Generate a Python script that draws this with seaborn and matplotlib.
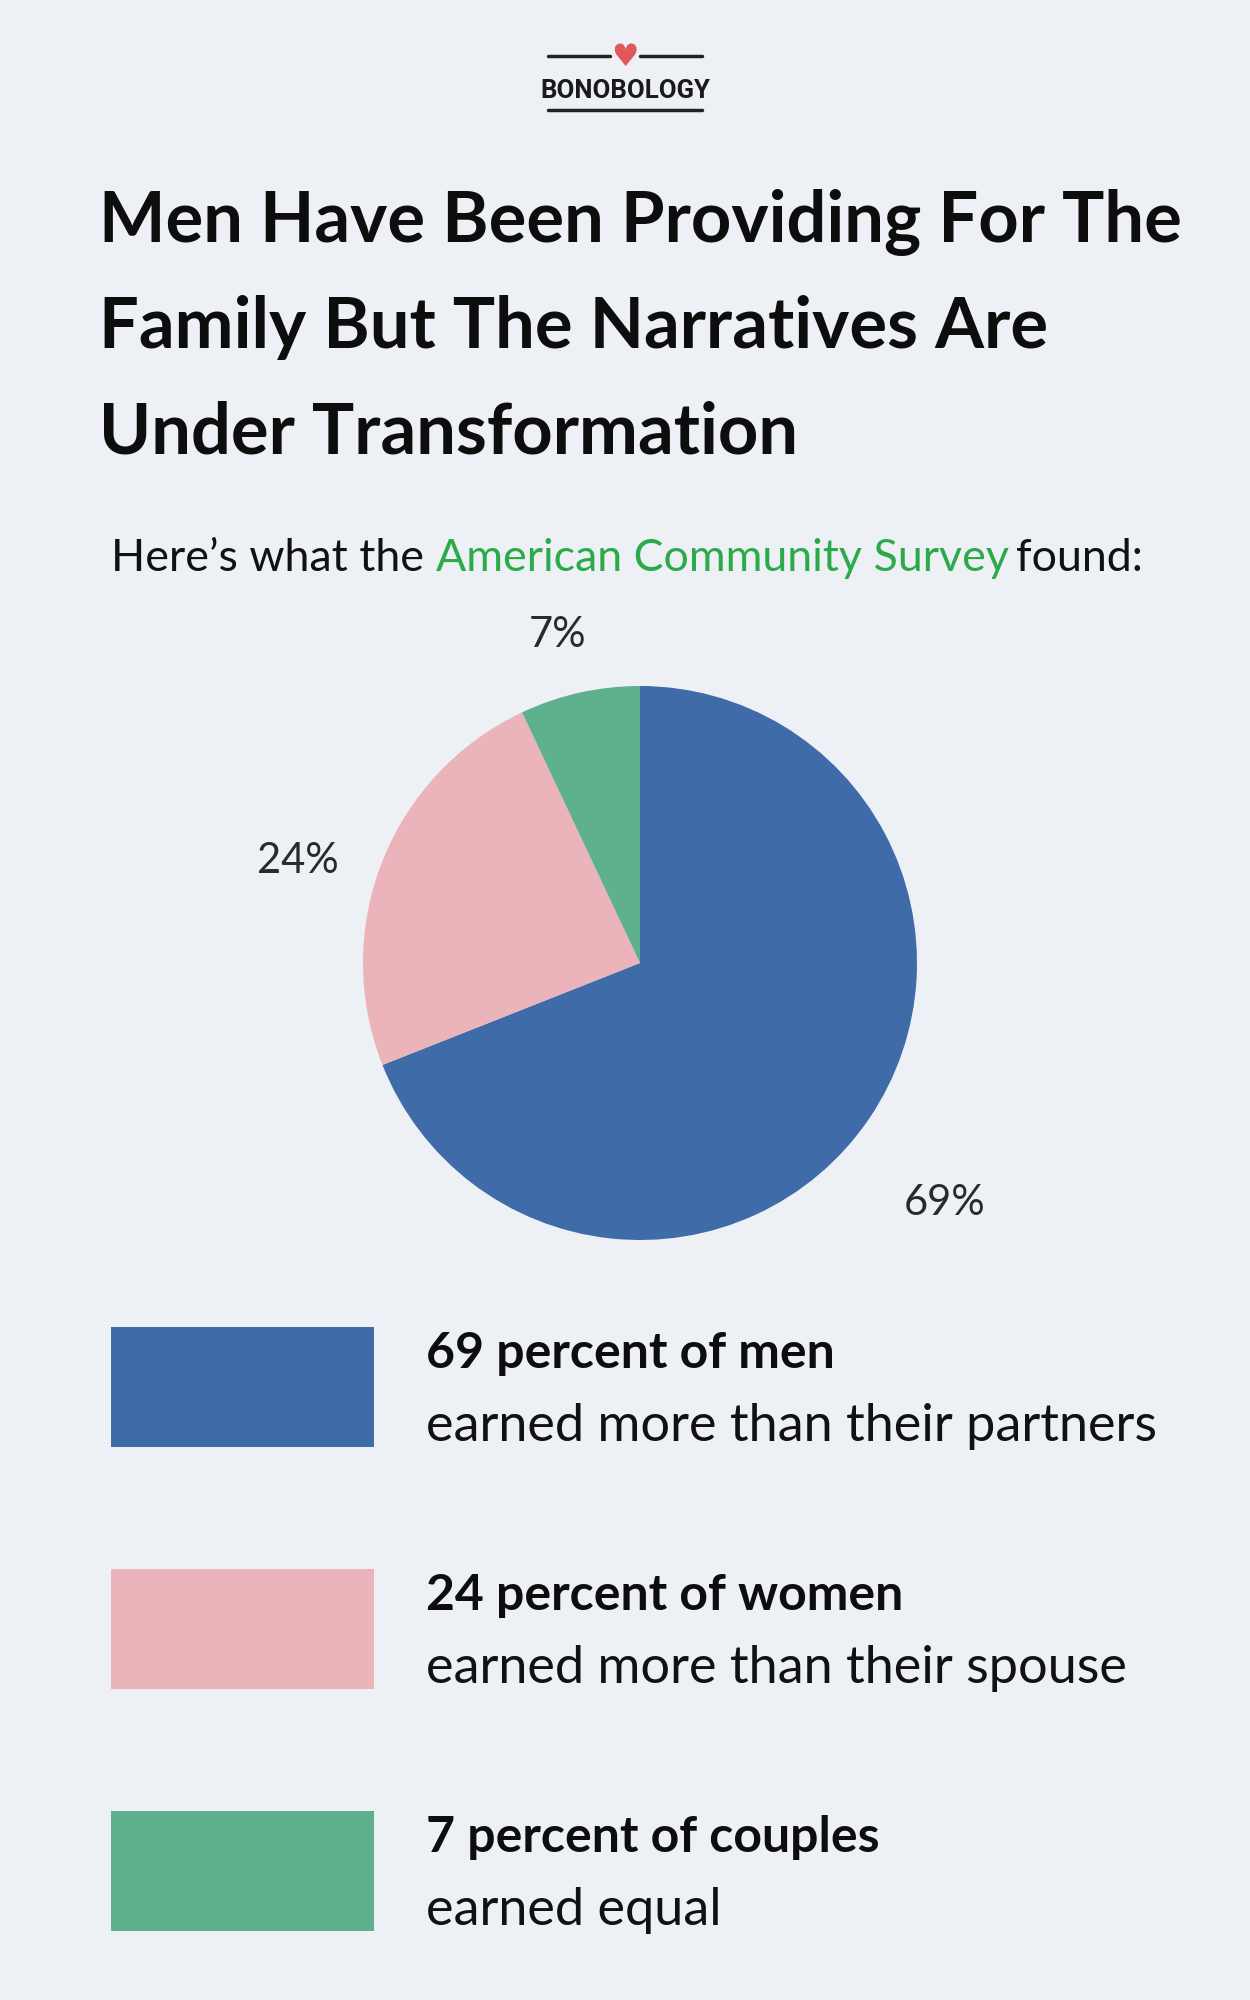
# Pie chart: who earns more in couples (American Community Survey)

import numpy as np
import seaborn as sns
import matplotlib.pyplot as plt
from matplotlib.patches import Rectangle
from matplotlib.lines import Line2D

shares = [69, 24, 7]
pct_labels = ["69%", "24%", "7%"]
colors = ["#3F6BA9", "#EBB3BA", "#5FB08D"]
legend_bold = ["69 percent of men", "24 percent of women", "7 percent of couples"]
legend_text = ["earned more than their partners", "earned more than their spouse", "earned equal"]
title_lines = ["Men Have Been Providing For The",
               "Family But The Narratives Are",
               "Under Transformation"]

sns.set_theme(style="white")
plt.rcParams['font.family'] = ['Lato', 'DejaVu Sans']

W, H = 1250, 2000
bg = "#EDF0F5"
fig = plt.figure(figsize=(12.5, 20), dpi=100, facecolor=bg)


def fx(px):
    return px / W


def fy(py):
    return 1 - py / H


# logo
fig.add_artist(Line2D([fx(548), fx(610)], [fy(56), fy(56)], color="#222", lw=2.5))
fig.add_artist(Line2D([fx(640), fx(702)], [fy(56), fy(56)], color="#222", lw=2.5))
fig.add_artist(Line2D([fx(548), fx(702)], [fy(110), fy(110)], color="#222", lw=2.5))
fig.text(fx(625), fy(57), "\u2665", color="#E0585C", fontsize=22, ha="center", va="center",
         family="DejaVu Sans")
fig.text(fx(625), fy(98), "BONOBOLOGY", color="#1a1a1a", fontsize=18.5, ha="center",
         va="baseline", family=["Roboto", "DejaVu Sans"], weight="bold")

# title
for i, line in enumerate(title_lines):
    fig.text(fx(99), fy(242 + i * 106), line, fontsize=50.8, weight="bold",
             color="#0d0d0d", va="baseline", ha="left")

# subtitle with green source name
t1 = fig.text(fx(111), fy(571), "Here\u2019s what the ", fontsize=32.2, color="#111", va="baseline")
fig.canvas.draw()
r = fig.canvas.get_renderer()
x = t1.get_window_extent(r).x1
t2 = fig.text(x / W, fy(571), "American Community Survey", fontsize=32.2, color="#2BAA4A", va="baseline")
x = t2.get_window_extent(r).x1
fig.text(x / W + 0.006, fy(571), "found:", fontsize=32.2, color="#111", va="baseline")

# pie
radius_px = 277
cx, cy = 640, 963
side = radius_px * 3
ax = fig.add_axes([fx(cx - side / 2), fy(cy + side / 2), side / W, side / H])
ax.set_facecolor("none")
wedges, texts = ax.pie(shares, labels=pct_labels, colors=colors, startangle=90,
                       counterclock=False, labeldistance=1.3,
                       wedgeprops=dict(linewidth=0, edgecolor="none"),
                       textprops=dict(fontsize=30, color="#2a2a2a"))
label_dist = [1.4, 1.29, 1.22]
label_turn = [-4, 5, 1.5]  # small angular nudge, degrees
for w, t, d, dt in zip(wedges, texts, label_dist, label_turn):
    mid = np.deg2rad((w.theta1 + w.theta2) / 2 + dt)
    t.set_position((d * np.cos(mid), d * np.sin(mid)))
    t.set_ha("center")
    t.set_va("center")
ax.set_xlim(-1.5, 1.5)
ax.set_ylim(-1.5, 1.5)
ax.set_aspect("equal")
ax.axis("off")

# legend
for i, (c, b, s) in enumerate(zip(colors, legend_bold, legend_text)):
    top = 1327 + i * 242
    fig.add_artist(Rectangle((fx(111), fy(top + 120)), fx(374) - fx(111), 120 / H,
                             transform=fig.transFigure, color=c, lw=0))
    fig.text(fx(426), fy(top + 41), b, fontsize=36, weight="bold", color="#0d0d0d", va="baseline")
    fig.text(fx(426), fy(top + 114), s, fontsize=37.6, color="#111", va="baseline")

fig.savefig("out.png", dpi=100, facecolor=bg)
